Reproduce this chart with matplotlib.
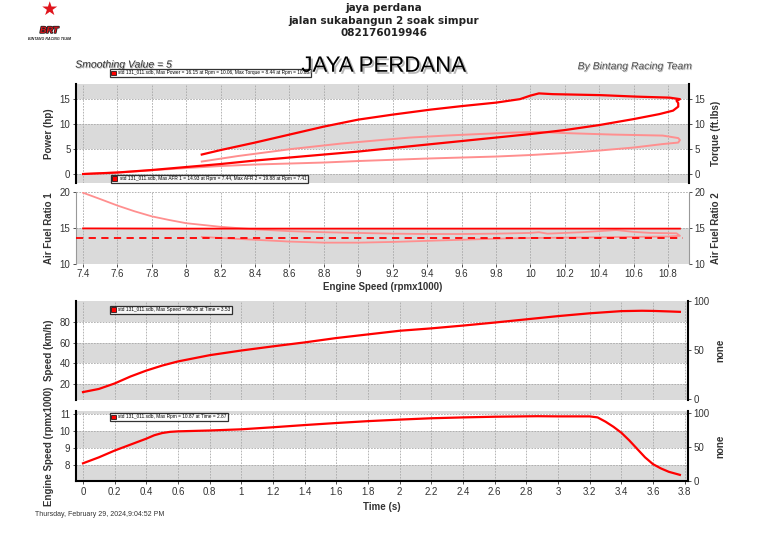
import matplotlib.pyplot as plt
import matplotlib.patheffects as pe
from matplotlib.patches import Patch

# Power / torque loop (rpm x1000), run goes up then back down
power_rpm = [7.40, 7.60, 7.80, 8.00, 8.20, 8.40, 8.60, 8.80, 9.00, 9.20, 9.40, 9.60, 9.80,
             10.00, 10.20, 10.40, 10.60, 10.75, 10.83, 10.86, 10.86, 10.85, 10.87,
             10.81, 10.62, 10.41, 10.13, 10.05, 10.00, 9.94, 9.80, 9.60, 9.42, 9.20,
             9.00, 8.80, 8.60, 8.40, 8.20, 8.09]
power_hp = [0.0, 0.3, 0.8, 1.4, 2.0, 2.7, 3.3, 3.9, 4.5, 5.2, 5.9, 6.6, 7.3,
            8.0, 8.8, 9.8, 11.0, 12.0, 12.7, 13.5, 14.2, 14.7, 15.0,
            15.3, 15.5, 15.8, 16.0, 16.15, 15.7, 15.0, 14.3, 13.6, 12.9, 11.9,
            10.9, 9.5, 7.9, 6.3, 4.8, 3.9]

torque_rpm = [7.40, 7.60, 7.80, 8.00, 8.20, 8.40, 8.60, 8.80, 9.00, 9.20, 9.40, 9.60, 9.80,
              10.00, 10.20, 10.40, 10.60, 10.77, 10.86, 10.87, 10.86,
              10.77, 10.48, 10.20, 10.05, 9.90, 9.70, 9.51, 9.30, 9.13, 8.90, 8.61, 8.30, 8.09]
torque_ftlb = [0.0, 0.3, 0.75, 1.2, 1.6, 1.9, 2.1, 2.3, 2.6, 2.85, 3.1, 3.3, 3.5,
               3.8, 4.2, 4.7, 5.3, 6.0, 6.3, 6.8, 7.2,
               7.7, 7.9, 8.2, 8.44, 8.3, 8.0, 7.7, 7.3, 6.8, 6.1, 5.0, 3.6, 2.5]

# Air fuel ratio
afr1_rpm = [7.40, 8.00, 9.00, 10.00, 10.87]
afr1 = [14.93, 14.9, 14.9, 14.9, 14.9]
afr_ref_rpm = [7.36, 10.89]
afr_ref = [13.65, 13.65]
afr2_rpm = [7.40, 7.50, 7.60, 7.70, 7.80, 7.90, 8.00, 8.20, 8.40, 8.60, 8.80, 9.00, 9.20,
            9.40, 9.60, 9.80, 10.00, 10.05, 10.10, 10.30, 10.50, 10.60, 10.70, 10.85, 10.87,
            10.80, 10.60, 10.40, 10.20, 10.00, 9.80, 9.60, 9.40, 9.20, 9.00, 8.80, 8.60,
            8.40, 8.20, 8.09]
afr2 = [19.88, 19.0, 18.1, 17.3, 16.6, 16.1, 15.65, 15.15, 14.8, 14.55, 14.4, 14.3, 14.2,
        14.15, 14.15, 14.2, 14.3, 14.4, 14.2, 14.4, 14.7, 14.45, 14.3, 14.25, 13.9,
        13.8, 13.75, 13.7, 13.65, 13.6, 13.5, 13.35, 13.2, 13.05, 12.95, 12.95, 13.1,
        13.35, 13.6, 13.75]

# Speed and engine speed over time
speed_t = [0.0, 0.1, 0.2, 0.3, 0.4, 0.5, 0.6, 0.8, 1.0, 1.2, 1.4, 1.6, 1.8, 2.0, 2.2,
           2.4, 2.6, 2.8, 3.0, 3.2, 3.4, 3.53, 3.6, 3.7, 3.77]
speed_kmh = [12.5, 15.5, 20.8, 27.5, 33.2, 38.0, 42.0, 48.0, 52.5, 56.5, 60.3, 64.5, 68.0,
             71.5, 73.8, 76.5, 79.4, 82.5, 85.6, 88.3, 90.4, 90.75, 90.6, 90.1, 89.7]
rpm_t = [0.0, 0.1, 0.2, 0.3, 0.4, 0.45, 0.5, 0.55, 0.6, 0.8, 1.0, 1.2, 1.4, 1.6, 1.8, 2.0,
         2.2, 2.4, 2.6, 2.87, 3.0, 3.2, 3.25, 3.3, 3.35, 3.4, 3.45, 3.5, 3.55, 3.6, 3.65,
         3.7, 3.77]
rpm_k = [8.1, 8.45, 8.85, 9.2, 9.55, 9.75, 9.88, 9.95, 9.98, 10.03, 10.1, 10.22, 10.35,
         10.47, 10.58, 10.67, 10.75, 10.8, 10.84, 10.87, 10.86, 10.86, 10.8, 10.55, 10.25,
         9.9, 9.45, 8.95, 8.45, 8.05, 7.8, 7.6, 7.42]

rpm_ticks = [7.4, 7.6, 7.8, 8, 8.2, 8.4, 8.6, 8.8, 9, 9.2, 9.4, 9.6, 9.8, 10, 10.2, 10.4, 10.6, 10.8]
rpm_labels = ['7.4', '7.6', '7.8', '8', '8.2', '8.4', '8.6', '8.8', '9', '9.2', '9.4', '9.6',
              '9.8', '10', '10.2', '10.4', '10.6', '10.8']
time_ticks = [0, 0.2, 0.4, 0.6, 0.8, 1, 1.2, 1.4, 1.6, 1.8, 2, 2.2, 2.4, 2.6, 2.8, 3, 3.2, 3.4, 3.6, 3.8]
time_labels = ['0', '0.2', '0.4', '0.6', '0.8', '1', '1.2', '1.4', '1.6', '1.8', '2', '2.2',
               '2.4', '2.6', '2.8', '3', '3.2', '3.4', '3.6', '3.8']

RED = '#ff0000'
PINK = '#ff8f8f'
BAND = '#dadada'
GRID = '#a8a8a8'
TXT = '#333333'

plt.rcParams['font.family'] = ['Liberation Sans', 'DejaVu Sans']

fig = plt.figure(figsize=(7.68, 5.43), dpi=100)


def setup(ax, bands, xlim, ylim, xticks, yticks):
    ax.set_xlim(xlim)
    ax.set_ylim(ylim)
    ax.set_facecolor('white')
    for lo, hi in bands:
        ax.axhspan(lo, hi, color=BAND, lw=0, zorder=0)
    ax.set_xticks(xticks)
    ax.set_yticks(yticks)
    ax.grid(True, color=GRID, ls=(0, (2, 1.5)), lw=0.6, zorder=1)
    ax.set_axisbelow(True)
    ax.tick_params(labelsize=7, colors=TXT, length=2, width=0.6, pad=2)
    for s in ax.spines.values():
        s.set_visible(False)


def twin(ax, ylim, yticks, label, black=True):
    t = ax.twinx()
    t.set_ylim(ylim)
    t.set_yticks(yticks)
    t.tick_params(labelsize=7, colors=TXT, length=2, width=0.6, pad=2)
    for s in t.spines.values():
        s.set_visible(False)
    t.spines['right'].set_visible(True)
    t.spines['right'].set_color('black' if black else '#999999')
    t.spines['right'].set_linewidth(1.5 if black else 0.8)
    t.set_ylabel(label, fontsize=7, fontweight='bold', color=TXT, labelpad=4)
    return t


def add_legend(ax, text, x, y):
    h = Patch(facecolor=RED, edgecolor='black', lw=0.5)
    leg = ax.legend([h], [text], loc='upper left', bbox_to_anchor=(x, y),
                    bbox_transform=fig.transFigure, fontsize=3.45, frameon=True,
                    fancybox=False, borderpad=0.3, handlelength=1.0, handleheight=1.0,
                    handletextpad=0.5, borderaxespad=0)
    leg.get_frame().set_edgecolor('black')
    leg.get_frame().set_linewidth(0.9)
    leg.set_zorder(10)


rpm_lim = (7.359, 10.922)
time_lim = (-0.044, 3.822)

# panel 1: power / torque
ax1 = fig.add_axes([0.099, 0.663, 0.798, 0.182])
setup(ax1, [(15, 30), (5, 10), (-5, 0)], rpm_lim, (-1.8, 18), rpm_ticks, [0, 5, 10, 15])
ax1.tick_params(axis='x', labelbottom=False, length=0)
ax1.spines['left'].set_visible(True)
ax1.spines['left'].set_linewidth(1.5)
ax1.plot(power_rpm, power_hp, color=RED, lw=1.6, zorder=4)
ax1.plot(torque_rpm, torque_ftlb, color=PINK, lw=1.4, zorder=3)
ax1.set_ylabel('Power (hp)', fontsize=7, fontweight='bold', color=TXT, labelpad=4)
twin(ax1, (-1.8, 18), [0, 5, 10, 15], 'Torque (ft.lbs)')
add_legend(ax1, 'std 131_011.sdb, Max Power = 16.15 at Rpm = 10.06, Max Torque = 8.44 at Rpm = 10.05',
           0.143, 0.873)

# panel 2: air fuel ratio
ax2 = fig.add_axes([0.099, 0.514, 0.798, 0.1326])
setup(ax2, [(0, 15)], rpm_lim, (10, 20), rpm_ticks, [10, 15, 20])
ax2.set_xticklabels(rpm_labels)
ax2.spines['left'].set_visible(True)
ax2.spines['left'].set_color('#999999')
ax2.spines['left'].set_linewidth(0.8)
ax2.plot(afr2_rpm, afr2, color=PINK, lw=1.3, zorder=3)
ax2.plot(afr1_rpm, afr1, color=RED, lw=1.3, zorder=4)
ax2.plot(afr_ref_rpm, afr_ref, color=RED, lw=1.3, ls=(0, (4, 3)), zorder=4)
ax2.set_ylabel('Air Fuel Ratio 1', fontsize=7, fontweight='bold', color=TXT, labelpad=4)
ax2.set_xlabel('Engine Speed (rpmx1000)', fontsize=7, fontweight='bold', color=TXT, labelpad=2)
twin(ax2, (10, 20), [10, 15, 20], 'Air Fuel Ratio 2', black=False)
add_legend(ax2, 'std 131_011.sdb, Max AFR 1 = 14.93 at Rpm = 7.44, Max AFR 2 = 19.88 at Rpm = 7.41',
           0.1445, 0.678)

# panel 3: speed
ax3 = fig.add_axes([0.099, 0.2634, 0.797, 0.182])
setup(ax3, [(80, 120), (40, 60), (0, 20)], time_lim, (4.9, 100), time_ticks, [20, 40, 60, 80])
ax3.tick_params(axis='x', labelbottom=False, length=0)
ax3.spines['left'].set_visible(True)
ax3.spines['left'].set_linewidth(1.5)
ax3.plot(speed_t, speed_kmh, color=RED, lw=1.6, zorder=4)
ax3.set_ylabel('Speed (km/h)', fontsize=7, fontweight='bold', color=TXT, labelpad=4)
twin(ax3, (-0.5, 100), [0, 50, 100], 'none')
add_legend(ax3, 'std 131_011.sdb, Max Speed = 90.75 at Time = 3.53', 0.143, 0.437)

# panel 4: engine speed
ax4 = fig.add_axes([0.099, 0.1142, 0.797, 0.129])
setup(ax4, [(11, 12), (9, 10), (6, 8)], time_lim, (7.06, 11.18), time_ticks, [8, 9, 10, 11])
ax4.set_xticklabels(time_labels)
ax4.spines['left'].set_visible(True)
ax4.spines['left'].set_linewidth(1.5)
ax4.spines['bottom'].set_visible(True)
ax4.spines['bottom'].set_linewidth(1.5)
ax4.plot(rpm_t, rpm_k, color=RED, lw=1.6, zorder=4)
ax4.set_ylabel('Engine Speed (rpmx1000)', fontsize=7, fontweight='bold', color=TXT, labelpad=4)
ax4.set_xlabel('Time (s)', fontsize=7, fontweight='bold', color=TXT, labelpad=4)
twin(ax4, (-0.4, 102.4), [0, 50, 100], 'none')
add_legend(ax4, 'std 131_011.sdb, Max Rpm = 10.87 at Time = 2.87', 0.143, 0.2395)

# header
head = dict(ha='center', va='center', fontsize=7.5, fontweight='bold', color='#222222',
            family=['Liberation Sans Narrow', 'DejaVu Sans'])
fig.text(0.5, 0.985, 'jaya perdana', **head)
fig.text(0.5, 0.962, 'jalan sukabangun 2 soak simpur', **head)
fig.text(0.5, 0.939, '082176019946', **head)

fig.text(0.098, 0.881, 'Smoothing Value = 5', ha='left', va='center', fontsize=7.5,
         style='italic', color='#333333',
         path_effects=[pe.withSimplePatchShadow(offset=(0.6, -0.6), alpha=0.3)])
fig.text(0.5, 0.878, 'JAYA PERDANA', ha='center', va='center', fontsize=16, color='black',
         path_effects=[pe.withSimplePatchShadow(offset=(1.5, -1.5), shadow_rgbFace='#888888', alpha=0.6)])
fig.text(0.826, 0.878, 'By Bintang Racing Team', ha='center', va='center', fontsize=7.5,
         style='italic', color='#555555',
         path_effects=[pe.withSimplePatchShadow(offset=(0.6, -0.6), alpha=0.3)])

# logo
fig.text(0.064, 0.983, '\u2605', ha='center', va='center', fontsize=14, color='#e0141c',
         family='DejaVu Sans')
fig.text(0.064, 0.944, 'BRT', ha='center', va='center', fontsize=6.5, fontweight='bold',
         style='italic', color='#e0141c',
         path_effects=[pe.withStroke(linewidth=1.2, foreground='#222222')])
fig.text(0.064, 0.929, 'BINTANG RACING TEAM', ha='center', va='center', fontsize=2.6,
         fontweight='bold', style='italic', color='#222222')

fig.text(0.045, 0.053, 'Thursday, February 29, 2024,9:04:52 PM', ha='left', va='center',
         fontsize=5, color='#333333')

fig.savefig('out.png', dpi=100, facecolor='white')
